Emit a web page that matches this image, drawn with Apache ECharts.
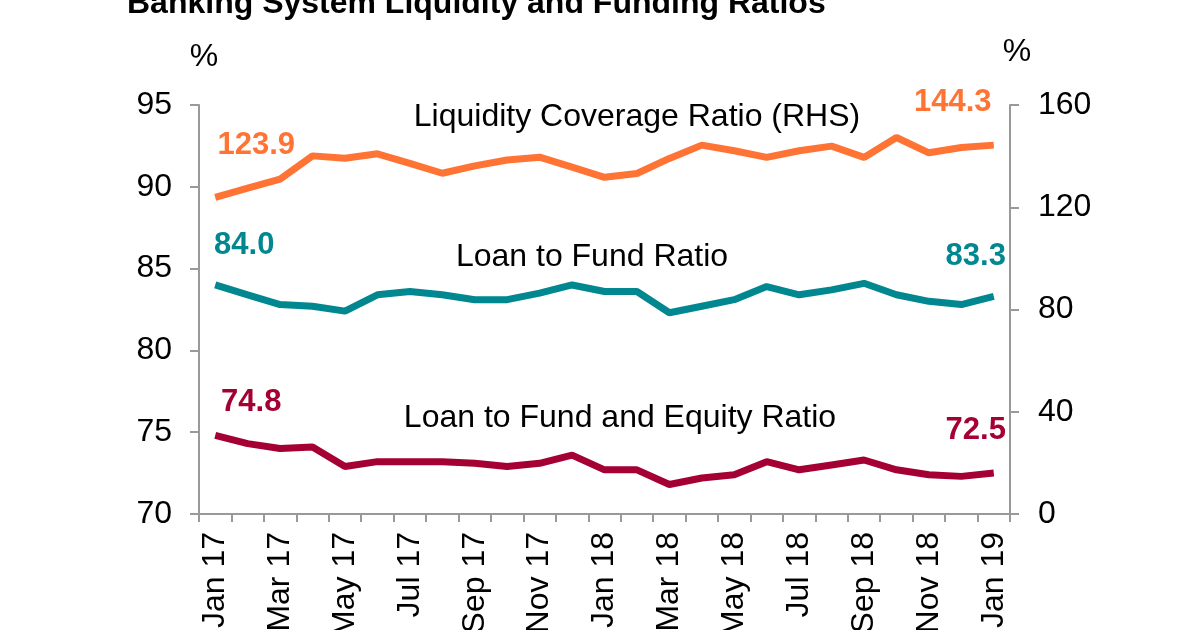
<!DOCTYPE html>
<html>
<head>
<meta charset="utf-8">
<title>Banking System Liquidity and Funding Ratios</title>
<script src="https://cdn.jsdelivr.net/npm/echarts@6/dist/echarts.min.js"></script>
<style>
	html, body { margin: 0; padding: 0; background: #fff; }
	#chart { width: 1200px; height: 630px; }
</style>
</head>
<body>
<div id="chart"></div>
<script>
// months Jan 17 .. Jan 19
var months = ['Jan 17', 'Feb 17', 'Mar 17', 'Apr 17', 'May 17', 'Jun 17', 'Jul 17', 'Aug 17', 'Sep 17', 'Oct 17', 'Nov 17', 'Dec 17',
	'Jan 18', 'Feb 18', 'Mar 18', 'Apr 18', 'May 18', 'Jun 18', 'Jul 18', 'Aug 18', 'Sep 18', 'Oct 18', 'Nov 18', 'Dec 18', 'Jan 19'];

// Liquidity Coverage Ratio (RHS)
var lcr = [123.9, 127.5, 131.0, 140.1, 139.2, 140.9, 137.2, 133.3, 136.2, 138.5, 139.6, 135.7,
	131.7, 133.2, 139.1, 144.3, 142.1, 139.5, 142.1, 143.9, 139.5, 147.3, 141.3, 143.4, 144.3];

// Loan to Fund Ratio
var lfr = [84.0, 83.4, 82.8, 82.7, 82.4, 83.4, 83.6, 83.4, 83.1, 83.1, 83.5, 84.0,
	83.6, 83.6, 82.3, 82.7, 83.1, 83.9, 83.4, 83.7, 84.1, 83.4, 83.0, 82.8, 83.3];

// Loan to Fund and Equity Ratio
var lfer = [74.8, 74.3, 74.0, 74.1, 72.9, 73.2, 73.2, 73.2, 73.1, 72.9, 73.1, 73.6,
	72.7, 72.7, 71.8, 72.2, 72.4, 73.2, 72.7, 73.0, 73.3, 72.7, 72.4, 72.3, 72.5];

var seriesNames = ['Liquidity Coverage Ratio (RHS)', 'Loan to Fund Ratio', 'Loan to Fund and Equity Ratio'];
var colors = ['#FF7434', '#00878F', '#A50034'];

var font = 'Liberation Sans, Arial, sans-serif';
var fs = 32;
var last = months.length - 1;

// first / last value callouts
function endLabels(data, color, offFirst, offLast) {
	return {
		symbol: 'circle',
		symbolSize: 0,
		silent: true,
		label: {
			show: true,
			position: 'inside',
			color: color,
			fontFamily: font,
			fontSize: 31,
			fontWeight: 'bold',
			formatter: function(p) { return p.value.toFixed(1); },
		},
		data: [
			{ coord: [months[0], data[0]], value: data[0], label: { offset: offFirst } },
			{ coord: [months[last], data[last]], value: data[last], label: { offset: offLast } },
		],
	};
}

var axisGray = '#999999';

var chart = echarts.init(document.getElementById('chart'));
chart.setOption({
	animation: false,
	grid: { left: 199, right: 190, top: 105, bottom: 116, containLabel: false, outerBoundsMode: 'none' },
	xAxis: {
		type: 'category',
		data: months,
		boundaryGap: true,
		axisLine: { lineStyle: { color: axisGray, width: 2 } },
		axisTick: { show: true, interval: 0, length: 8, lineStyle: { color: axisGray, width: 2 } },
		axisLabel: { interval: 1, rotate: 90, margin: 18, color: '#000', fontFamily: font, fontSize: fs },
		splitLine: { show: false },
	},
	yAxis: [
		{
			type: 'value',
			min: 70,
			max: 95,
			interval: 5,
			axisLine: { show: true, lineStyle: { color: axisGray, width: 2 } },
			axisTick: { show: true, length: 9, lineStyle: { color: axisGray, width: 2 } },
			axisLabel: { margin: 27, color: '#000', fontFamily: font, fontSize: fs },
			splitLine: { show: false },
		},
		{
			type: 'value',
			min: 0,
			max: 160,
			interval: 40,
			position: 'right',
			axisLine: { show: true, lineStyle: { color: axisGray, width: 2 } },
			axisTick: { show: true, length: 9, lineStyle: { color: axisGray, width: 2 } },
			axisLabel: { margin: 28, color: '#000', fontFamily: font, fontSize: fs },
			splitLine: { show: false },
		},
	],
	series: [
		{
			name: seriesNames[0],
			type: 'line',
			yAxisIndex: 1,
			data: lcr,
			symbol: 'none',
			lineStyle: { color: colors[0], width: 7 },
			markPoint: endLabels(lcr, colors[0], [41, -52], [-41, -43]),
		},
		{
			name: seriesNames[1],
			type: 'line',
			data: lfr,
			symbol: 'none',
			lineStyle: { color: colors[1], width: 7 },
			markPoint: endLabels(lfr, colors[1], [29, -40], [-18, -40]),
		},
		{
			name: seriesNames[2],
			type: 'line',
			data: lfer,
			symbol: 'none',
			lineStyle: { color: colors[2], width: 7 },
			markPoint: endLabels(lfer, colors[2], [36, -33], [-18, -43]),
		},
	],
	graphic: [
		{ type: 'text', left: 127, top: -12, style: { text: 'Banking System Liquidity and Funding Ratios', fill: '#000', font: 'bold 32px ' + font } },
		{ type: 'text', x: 204, y: 57, style: { text: '%', fill: '#000', font: fs + 'px ' + font, align: 'center', verticalAlign: 'middle' } },
		{ type: 'text', x: 1017, y: 52, style: { text: '%', fill: '#000', font: fs + 'px ' + font, align: 'center', verticalAlign: 'middle' } },
		{ type: 'text', x: 637, y: 117, style: { text: seriesNames[0], fill: '#000', font: fs + 'px ' + font, align: 'center', verticalAlign: 'middle' } },
		{ type: 'text', x: 592, y: 257, style: { text: seriesNames[1], fill: '#000', font: fs + 'px ' + font, align: 'center', verticalAlign: 'middle' } },
		{ type: 'text', x: 620, y: 418, style: { text: seriesNames[2], fill: '#000', font: fs + 'px ' + font, align: 'center', verticalAlign: 'middle' } },
	],
});
</script>
</body>
</html>
